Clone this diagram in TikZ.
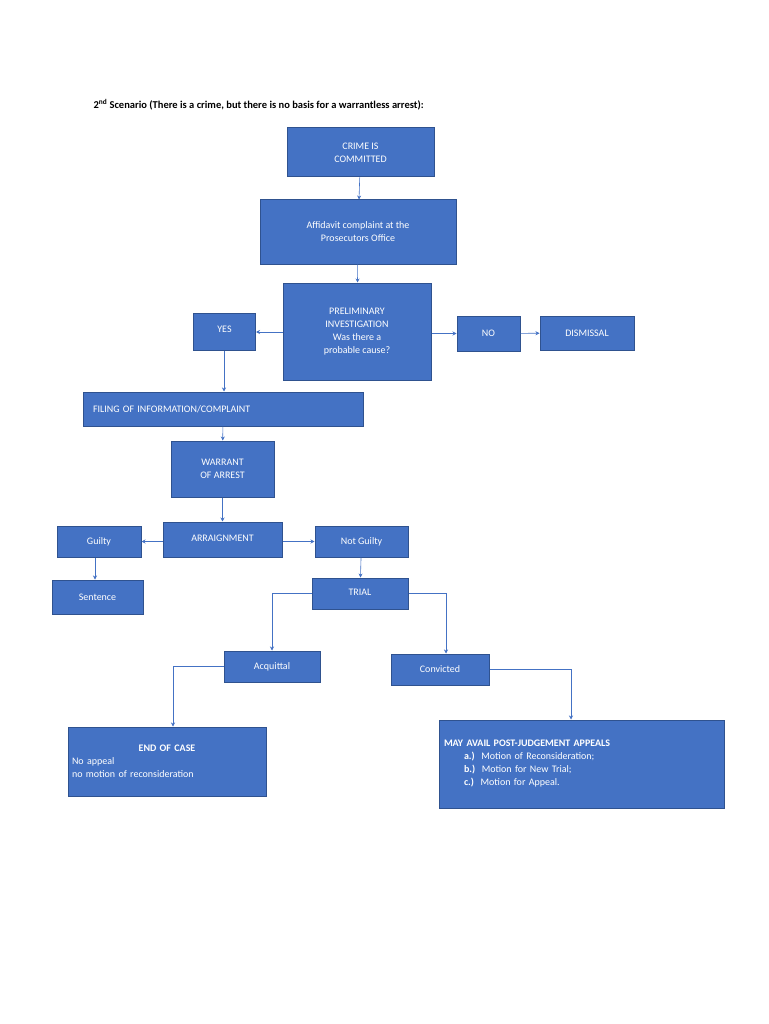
\documentclass[tikz,border=0pt]{standalone}
\usepackage{fontspec}
\setmainfont{Carlito}
\usetikzlibrary{arrows.meta}
\definecolor{bfill}{HTML}{4472C4}
\definecolor{bline}{HTML}{2F528F}
\begin{document}
\begin{tikzpicture}[x=1pt,y=-1pt,
 box/.style={draw=bline,line width=1pt,fill=bfill,text=white,font=\fontsize{10}{13}\selectfont,inner sep=0pt},
 arr/.style={draw=bfill,line width=0.6pt,-{Stealth[length=4pt,width=4pt]}}]
\useasboundingbox (0,0) rectangle (768,1024);
\newcommand{\bx}[6]{\node[box,minimum width=#4-#2,minimum height=#5-#3,align=center,#6] (#1) at ({(#2+#4)/2},{(#3+#5)/2}) {};}
\node[anchor=west,font=\bfseries\fontsize{10.5}{13}\selectfont] (title) at (90,105) {2\textsuperscript{nd} Scenario (There is a crime, but there is no basis for a warrantless arrest):};
\node[box,minimum width=147,minimum height=49,align=center] (crime) at (360.5,152.5) {CRIME IS\\COMMITTED};
\node[box,minimum width=196,minimum height=64,align=center] (aff) at (358,232) {Affidavit complaint at the\\Prosecutors Office};
\node[box,minimum width=148,minimum height=97,align=center] (pre) at (357,331.5) {PRELIMINARY\\INVESTIGATION\\Was there a\\probable cause?};
\node[box,minimum width=62,minimum height=37,anchor=north west,text width=62,align=center] (yes) at (193,313) {\raisebox{6pt}{YES}};
\node[box,minimum width=63,minimum height=35] (no) at (488.5,333.5) {NO};
\node[box,minimum width=94,minimum height=34] (dis) at (587,333) {DISMISSAL};
\node[box,minimum width=280,minimum height=34,text width=260,align=left] (fil) at (223,409) {FILING OF INFORMATION/COMPLAINT};
\node[box,minimum width=103,minimum height=56,align=center] (war) at (222.5,469) {WARRANT\\OF ARREST};
\node[box,minimum width=119,minimum height=35] (arr) at (222.5,539.5) {\raisebox{3pt}{ARRAIGNMENT}};
\node[box,minimum width=84,minimum height=31] (gui) at (99,541.5) {Guilty};
\node[box,minimum width=93,minimum height=31] (ng) at (361.5,541.5) {Not Guilty};
\node[box,minimum width=91,minimum height=34] (sen) at (97.5,597) {Sentence};
\node[box,minimum width=96,minimum height=31] (tri) at (360,593.5) {\raisebox{2pt}{TRIAL}};
\node[box,minimum width=96,minimum height=31] (acq) at (272,666.5) {Acquittal};
\node[box,minimum width=98,minimum height=31] (con) at (440,669.5) {Convicted};
\node[box,minimum width=198,minimum height=69,text width=190,align=left] (end) at (167,761.5) {\centering\textbf{END OF CASE}\par\raggedright No appeal\\no motion of reconsideration};
\node[box,minimum width=285,minimum height=88,text width=275,align=left] (may) at (581.5,764) {\textbf{MAY AVAIL POST-JUDGEMENT APPEALS}\\
\hspace*{20pt}\textbf{a.)}\ \ Motion of Reconsideration;\\
\hspace*{20pt}\textbf{b.)}\ \ Motion for New Trial;\\
\hspace*{20pt}\textbf{c.)}\ \ Motion for Appeal.};
\draw[arr] (crime) -- (aff);
\draw[arr] (aff) -- (pre);
\draw[arr] (pre.west|-yes.east) -- (yes.east);
\draw[arr] (pre.east|-no.west) -- (no.west);
\draw[arr] (no) -- (dis);
\draw[arr] (yes.south-|224,0) -- (fil.north-|224,0);
\draw[arr] (fil) -- (war);
\draw[arr] (war) -- (arr);
\draw[arr] (arr.west|-gui.east) -- (gui.east);
\draw[arr] (arr.east|-ng.west) -- (ng.west);
\draw[arr] (gui.south-|95,0) -- (sen.north-|95,0);
\draw[arr] (ng) -- (tri);
\draw[arr] (tri.west) -| (acq.north);
\draw[arr] (tri.east) -| (446,0|-con.north);
\draw[arr] (acq.west) -| (173,0|-end.north);
\draw[arr] (con.east) -| (571,0|-may.north);
\end{tikzpicture}
\end{document}
